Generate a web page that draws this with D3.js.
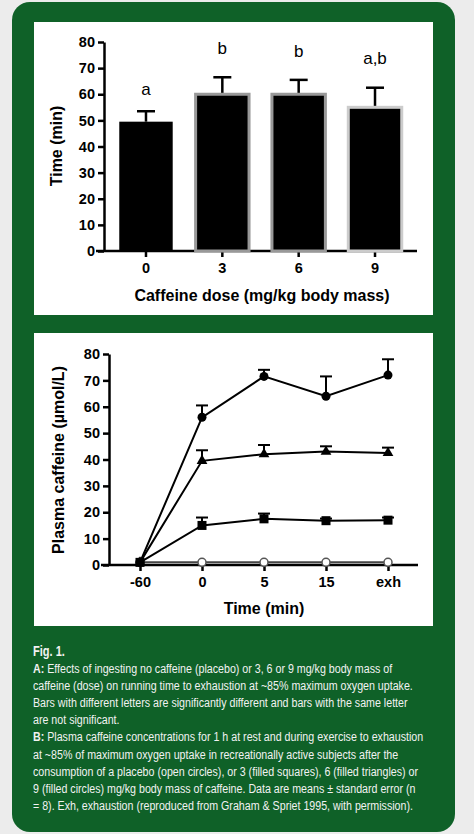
<!DOCTYPE html><html><head><meta charset="utf-8"><script src="https://cdn.jsdelivr.net/npm/d3@7"></script>
<style>body{margin:0;background:#ececec}svg{display:block}</style></head><body><svg id="c" width="474" height="834"></svg>
<script>
const doses=["0","3","6","9"];
const times=[49.5,60,60,55];
const timesErr=[4,6.5,5.5,7.5];
const letters=["a","b","b","a,b"];
const timePoints=["-60","0","5","15","exh"];
const c9=[1,56,71.5,64,72], e9=[0,4.5,2.5,7.5,6];
const c6=[1,39.5,42,43,42.5], e6=[0,4,3.5,2,2];
const c3=[1,15,17.5,16.8,17], e3=[0,3,2,0.8,1];
const c0=[1,1,1,1,1], e0=[0,0,0,0,0];
const yTicks=[0,10,20,30,40,50,60,70,80];
const svg=d3.select("#c");
const F="Liberation Sans, Arial, sans-serif";
svg.append("rect").attr("x",12).attr("y",2).attr("width",443).attr("height",830).attr("rx",18).attr("fill","#0f6128");
svg.append("rect").attr("x",34).attr("y",22).attr("width",399).attr("height",293).attr("fill","#fff");
svg.append("rect").attr("x",34).attr("y",333).attr("width",399).attr("height",293).attr("fill","#fff");
function styleAxis(a,isY){a.select(".domain").attr("stroke-width",2.5);a.selectAll("line").attr("stroke-width",2.5);
 const t=a.selectAll("text").attr("font-family",F).attr("font-weight","bold").attr("font-size",14.5);
 if(isY) t.attr("x",-9); else t.attr("y",12);}
// Chart A
const gA=svg.append("g");
const xA=d3.scaleBand().domain(doses).range([104,417]).paddingInner(0.3).paddingOuter(0.2);
const yA=d3.scaleLinear().domain([0,80]).range([251,42]);
gA.append("g").attr("transform","translate(104,0)").call(d3.axisLeft(yA).tickValues(yTicks).tickSize(6).tickSizeOuter(0)).call(a=>styleAxis(a,true));
gA.append("g").attr("transform","translate(0,251)").call(d3.axisBottom(xA).tickSize(6).tickSizeOuter(0))
 .call(a=>{styleAxis(a,false);a.select(".domain").attr("d","M96,0H417");});
doses.forEach((d,i)=>{
 const x=xA(d),w=xA.bandwidth(),cx=x+w/2;
 gA.append("line").attr("x1",cx).attr("x2",cx).attr("y1",yA(times[i])).attr("y2",yA(times[i]+timesErr[i])).attr("stroke","#000").attr("stroke-width",2.5);
 gA.append("line").attr("x1",cx-9).attr("x2",cx+9).attr("y1",yA(times[i]+timesErr[i])).attr("y2",yA(times[i]+timesErr[i])).attr("stroke","#000").attr("stroke-width",2.5);
 gA.append("rect").attr("x",x).attr("y",yA(times[i])).attr("width",w).attr("height",251-yA(times[i])).attr("fill","#000")
  .attr("stroke",i==0?"none":(i==3?"#ccc":"#999")).attr("stroke-width",3);
 gA.append("text").attr("x",cx).attr("y",yA(times[i]+timesErr[i])-(i==0?16:(i==3?24:23))).attr("text-anchor","middle").attr("font-family",F).attr("font-size",17).text(letters[i]);
});
gA.append("text").attr("transform","translate(62,146) rotate(-90)").attr("text-anchor","middle").attr("font-family",F).attr("font-weight","bold").attr("font-size",16).text("Time (min)");
gA.append("text").attr("x",262).attr("y",301).attr("text-anchor","middle").attr("font-family",F).attr("font-weight","bold").attr("font-size",16).text("Caffeine dose (mg/kg body mass)");
// Chart B
const gB=svg.append("g");
const xB=d3.scalePoint().domain(timePoints).range([140,388]);
const yB=d3.scaleLinear().domain([0,80]).range([565,354]);
gB.append("g").attr("transform","translate(109,0)").call(d3.axisLeft(yB).tickValues(yTicks).tickSize(6).tickSizeOuter(0)).call(a=>styleAxis(a,true));
gB.append("g").attr("transform","translate(0,565)").call(d3.axisBottom(xB).tickSize(6).tickSizeOuter(0))
 .call(a=>{styleAxis(a,false);a.select(".domain").attr("d","M101,0H418");});
const series=[[c0,e0,"oc"],[c3,e3,"sq"],[c6,e6,"tri"],[c9,e9,"ci"]];
const line=d3.line().x((v,i)=>xB(timePoints[i])).y(v=>yB(v));
series.forEach(([vals,errs,sym])=>{
 gB.append("path").attr("d",line(vals)).attr("fill","none").attr("stroke",sym=="oc"?"#444":"#000").attr("stroke-width",2);
 vals.forEach((v,i)=>{
  const x=xB(timePoints[i]);
  if(errs[i]>0){const t=yB(v+errs[i]);
   gB.append("line").attr("x1",x).attr("x2",x).attr("y1",yB(v)).attr("y2",t).attr("stroke","#000").attr("stroke-width",2);
   gB.append("line").attr("x1",x-6).attr("x2",x+6).attr("y1",t).attr("y2",t).attr("stroke","#000").attr("stroke-width",2);}
  const y=yB(v);
  if(sym=="oc") gB.append("circle").attr("cx",x).attr("cy",y).attr("r",4).attr("fill","#fff").attr("stroke","#555").attr("stroke-width",1.5);
  if(sym=="ci") gB.append("circle").attr("cx",x).attr("cy",y).attr("r",4.5).attr("fill","#000");
  if(sym=="sq") gB.append("rect").attr("x",x-4.5).attr("y",y-4.5).attr("width",9).attr("height",9).attr("fill","#000");
  if(sym=="tri") gB.append("path").attr("d",d3.symbol(d3.symbolTriangle,50)()).attr("transform",`translate(${x},${y})`).attr("fill","#000");
 });
});
gB.append("text").attr("transform","translate(64,460) rotate(-90)").attr("text-anchor","middle").attr("font-family",F).attr("font-weight","bold").attr("font-size",16).text("Plasma caffeine (µmol/L)");
gB.append("text").attr("x",264).attr("y",614).attr("text-anchor","middle").attr("font-family",F).attr("font-weight","bold").attr("font-size",16).text("Time (min)");
// Caption (condensed via horizontal scale)
const cap=[["Fig. 1.",""],["A:"," Effects of ingesting no caffeine (placebo) or 3, 6 or 9 mg/kg body mass of"],["","caffeine (dose) on running time to exhaustion at ~85% maximum oxygen uptake."],["","Bars with different letters are significantly different and bars with the same letter"],["","are not significant."],["B:"," Plasma caffeine concentrations for 1 h at rest and during exercise to exhaustion"],["","at ~85% of maximum oxygen uptake in recreationally active subjects after the"],["","consumption of a placebo (open circles), or 3 (filled squares), 6 (filled triangles) or"],["","9 (filled circles) mg/kg body mass of caffeine. Data are means ± standard error (n"],["","= 8). Exh, exhaustion (reproduced from Graham & Spriet 1995, with permission)."]];
const sx=0.79;
const capG=svg.append("g").attr("transform",`translate(33,0) scale(${sx},1)`);
cap.forEach(([b,t],i)=>{
 const tx=capG.append("text").attr("x",0).attr("y",656+i*17.1).attr("font-family",F).attr("font-size",i==0?14:13.5).attr("fill","#f2f2f2");
 if(b) tx.append("tspan").attr("font-weight","bold").text(b);
 if(t) tx.append("tspan").text(t);
});
</script></body></html>
